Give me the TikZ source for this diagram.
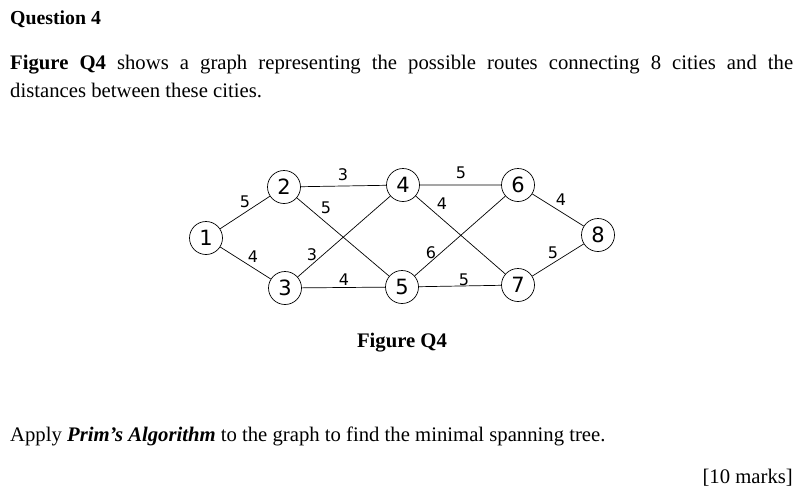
\documentclass[tikz,border=0pt]{standalone}
\usepackage{fontspec}
\setmainfont{Liberation Serif}
\newfontfamily\numfont{DejaVu Sans}
\begin{document}
\begin{tikzpicture}[x=1pt,y=-1pt,
  city/.style={circle,draw,line width=0.7pt,minimum size=33pt,inner sep=0pt,font=\numfont\fontsize{21}{24}\selectfont},
  wt/.style={font=\numfont\fontsize{16}{18}\selectfont,inner sep=1pt},
  edge/.style={line width=0.7pt},
  txt/.style={inner sep=0pt,font=\fontsize{20.7}{28}\selectfont}]
\useasboundingbox (0,0) rectangle (800,493);
\node[txt,anchor=base west,font=\bfseries\fontsize{19.8}{20}\selectfont] (q) at (10,24) {Question 4};
\node[txt,anchor=base west,text width=783pt,align=justify] (p) at (10,69) {\textbf{Figure Q4} shows a graph representing the possible routes connecting 8 cities and the\linebreak distances between these cities.};
\node[city] (n1) at (206,238) {1};
\node[city] (n2) at (284,187) {2};
\node[city] (n3) at (285,288) {3};
\node[city] (n4) at (403,185) {4};
\node[city] (n5) at (402,287) {5};
\node[city] (n6) at (518,185) {6};
\node[city] (n7) at (518,285) {7};
\node[city] (n8) at (598,235) {8};
\draw[edge] (n1)--(n2) (n1)--(n3) (n2)--(n4) (n2)--(n5) (n3)--(n4) (n3)--(n5)
  (n4)--(n6) (n4)--(n7) (n5)--(n6) (n5)--(n7) (n6)--(n8) (n7)--(n8);
\node[wt] (w12) at (245,202) {5};
\node[wt] (w13) at (253,257) {4};
\node[wt] (w24) at (343,175) {3};
\node[wt] (w25) at (326,208) {5};
\node[wt] (w34) at (312,255) {3};
\node[wt] (w35) at (344,280) {4};
\node[wt] (w46) at (461,173) {5};
\node[wt] (w47) at (442,204) {4};
\node[wt] (w56) at (431,253) {6};
\node[wt] (w57) at (464,280) {5};
\node[wt] (w68) at (561,200) {4};
\node[wt] (w78) at (553,253) {5};
\node[txt,font=\bfseries\fontsize{20.7}{20}\selectfont] (cap) at (402,343) {Figure Q4};
\node[txt,anchor=base west] (a) at (10,441) {Apply \textbf{\textit{Prim's Algorithm}} to the graph to find the minimal spanning tree.};
\node[txt,anchor=base east] (m) at (793,483) {[10 marks]};
\end{tikzpicture}
\end{document}
